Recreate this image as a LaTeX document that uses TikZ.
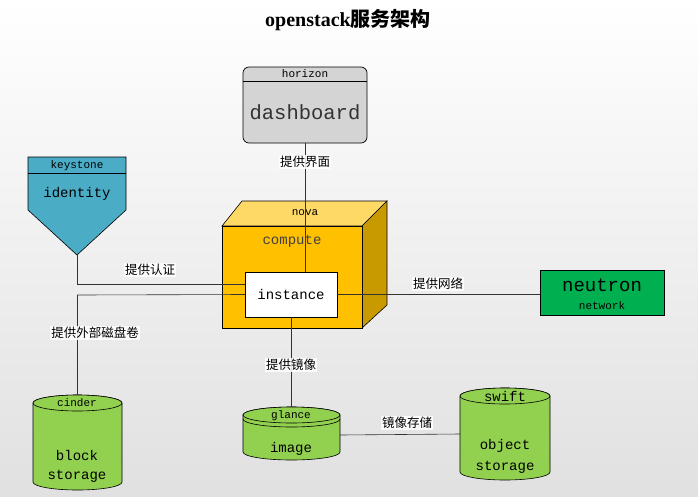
\documentclass[tikz,border=0pt]{standalone}
\usepackage{fontspec}
\setmainfont{Liberation Mono}
\newfontfamily\cjk{Noto Sans CJK SC}
\begin{document}
\begin{tikzpicture}[x=1pt,y=-1pt,
 lbl/.style={fill=white,fill opacity=.85,text opacity=1,inner sep=1pt,font=\cjk\fontsize{12.5}{12.5}\selectfont},
 ln/.style={draw=black!80,line width=.6pt},
 sm/.style={font=\fontsize{11}{11}\selectfont},
 md/.style={font=\fontsize{14}{14}\selectfont},
 box/.style={draw=none,inner sep=0,minimum width=#1}]
\useasboundingbox (0,0) rectangle (698,496);
\shade[top color=white,bottom color=black!12] (0,0) rectangle (698,496);
\node (title) at (348,20) {\fontspec{Liberation Serif}\bfseries\fontsize{20}{20}\selectfont openstack{\cjk\bfseries 服务架构}};
% horizon
\draw[fill=black!17,rounded corners=6pt,line width=.7pt] (243,67) rectangle (367,143);
\draw (243,81)--(367,81);
\node[box,minimum width=124,minimum height=76] (hz) at (305,105) {};
\node[sm] (hzt) at (305,74) {horizon};
\node[font=\fontsize{20.5}{20.5}\selectfont,text=black!80] (hzd) at (305,112) {dashboard};
% nova cube
\fill[fill={rgb,255:red,255;green,217;blue,102}] (222,226)--(242,201)--(387,201)--(362,226)--cycle;
\draw[line width=.6pt] (222,226)--(242,201)--(387,201)--(362,226)--cycle;
\draw[fill={rgb,255:red,201;green,154;blue,0},line width=.6pt] (362,226)--(387,201)--(387,305)--(362,328)--cycle;
\draw[fill={rgb,255:red,255;green,192;blue,0},line width=.6pt] (222,226) rectangle (362,328);
\node[sm] (nova) at (305,213) {nova};
\node[md,text=black!75] (comp) at (292,241) {compute};
% keystone
\draw[fill={rgb,255:red,75;green,172;blue,198},line width=.6pt] (28,157)--(126,157)--(126,210)--(77,255)--(28,210)--cycle;
\draw (28,173)--(126,173);
\node[sm] (ks) at (77,166) {keystone};
\node[md] (ksi) at (77,194) {identity};
\coordinate (ksb) at (77,255);
% lines
\node[box,minimum width=92,minimum height=45] (inst) at (291,294.5) {};
\draw[ln] (hz.south) -- (inst.north -| hz.south);
\draw[ln] (ksb) |- (inst.west |- 0,284);
\coordinate (cj) at (77,295);
\draw[ln] (inst.west) -- (cj);
% instance
\draw[fill=white,line width=.6pt] (inst.north west) rectangle (inst.south east);
\node[md] (instt) at (inst) {instance};
% neutron
\node[draw,fill={rgb,255:red,0;green,176;blue,80},minimum width=124,minimum height=45,inner sep=0,line width=.6pt] (ne) at (602,292.5) {};
\node[font=\fontsize{19}{19}\selectfont] (net) at (602,285) {neutron};
\node[sm] (nen) at (602,306) {network};
\draw[ln] (inst.east) -- (inst.east -| ne.west);
% cylinders
\tikzset{cyl/.style={fill={rgb,255:red,146;green,208;blue,80},line width=.6pt}}
% cinder
\draw[cyl] (33,403) -- (33,482) arc[start angle=180,end angle=0,x radius=44.5,y radius=8] -- (122,403) arc[start angle=0,end angle=-180,x radius=44.5,y radius=8]--cycle;
\draw[cyl] (77.5,403) ellipse[x radius=44.5,y radius=8];
\coordinate (cjt) at (77,395);
\draw[ln] (cj) -- (cjt);
\node[sm] (cn) at (77,403) {cinder};
\node[md] (cb) at (77,455) {block};
\node[md] (cs) at (77,476) {storage};
% glance
\draw[cyl] (243,415) -- (243,452) arc[start angle=180,end angle=0,x radius=48.5,y radius=8] -- (340,415) arc[start angle=0,end angle=-180,x radius=48.5,y radius=8]--cycle;
\draw[line width=.6pt] (243,419) arc[start angle=180,end angle=0,x radius=48.5,y radius=8];
\draw[cyl] (291.5,415) ellipse[x radius=48.5,y radius=8];
\coordinate (glt) at (291,407);
\coordinate (glr) at (340,435);
\draw[ln] (inst.south) -- (glt);
\node[sm] (gn) at (291,416) {glance};
\node[md] (gi) at (291,449) {image};
% swift
\draw[cyl] (460,396) -- (460,472) arc[start angle=180,end angle=0,x radius=45,y radius=8] -- (550,396) arc[start angle=0,end angle=-180,x radius=45,y radius=8]--cycle;
\draw[cyl] (505,396) ellipse[x radius=45,y radius=8];
\coordinate (swl) at (460,434);
\draw[ln] (glr) -- (swl);
\node[md] (sn) at (505,396) {swift};
\node[md] (so) at (505,446) {object};
\node[md] (ss) at (505,467) {storage};
% labels
\node[lbl] (l1) at (305,162) {提供界面};
\node[lbl] (l2) at (150,270) {提供认证};
\node[lbl] (l3) at (95,333) {提供外部磁盘卷};
\node[lbl] (l4) at (438,284) {提供网络};
\node[lbl] (l5) at (291,365) {提供镜像};
\node[lbl] (l6) at (407,423) {镜像存储};
\end{tikzpicture}
\end{document}
